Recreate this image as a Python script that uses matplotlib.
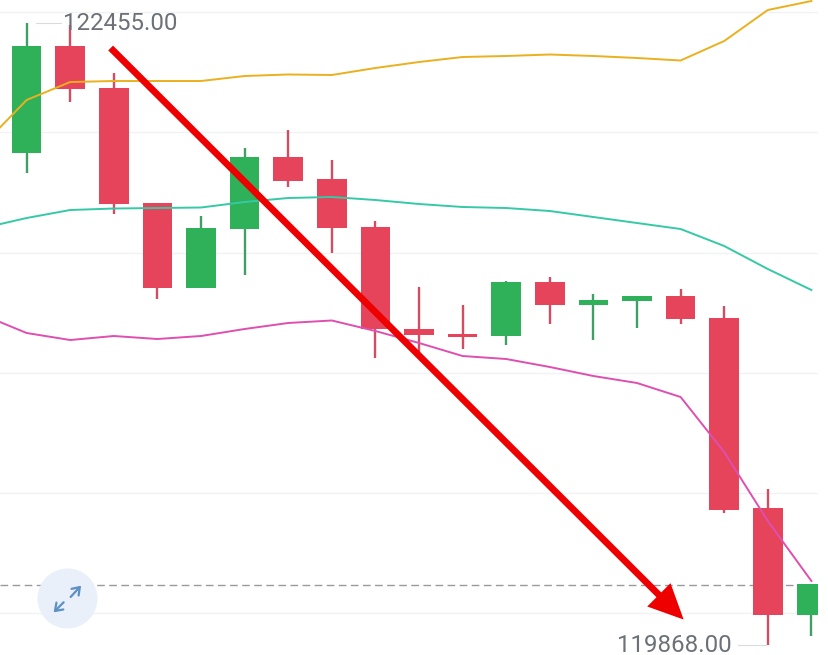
import matplotlib
matplotlib.use("Agg")
import matplotlib.pyplot as plt
import numpy as np

#candles, prices
opens = [121914.4, 122359.4, 122184.7, 121706.4, 121352.9, 121598.3, 121897.7, 121806.2, 121606.6, 121182.4,
	121161.6, 121153.3, 121377.9, 121282.2, 121298.8, 121319.6, 121228.1, 120437.9, 119992.9]
closes = [122359.4, 122180.5, 121702.3, 121352.9, 121602.4, 121897.7, 121797.9, 121602.4, 121182.4, 121157.4,
	121149.0, 121377.9, 121282.2, 121303.0, 121319.6, 121224.0, 120429.6, 119992.9, 120121.8]
highs = [122455.0, 122446.7, 122247.1, 121706.4, 121652.4, 121935.2, 122010.0, 121885.3, 121631.6, 121357.0,
	121282.2, 121382.0, 121398.7, 121328.0, 121319.6, 121348.8, 121278.0, 120517.0, 120121.8]
lows = [121831.2, 122126.5, 121660.7, 121307.2, 121352.9, 121407.0, 121773.0, 121498.5, 121061.8, 121086.7,
	121099.2, 121115.8, 121203.2, 121136.6, 121186.6, 121203.2, 120417.1, 119868.0, 119905.6]

#bands, first point sits just off the left edge
bandX = list(range(-1, 19))
upperBand = [121947.6, 122134.8, 122209.7, 122213.8, 122213.8, 122213.8, 122234.6, 122240.9, 122238.8, 122267.9,
	122292.8, 122313.6, 122317.8, 122324.0, 122317.8, 122309.5, 122299.1, 122380.2, 122509.1, 122546.5]
middleBand = [121602.4, 121644.0, 121677.3, 121683.5, 121685.6, 121687.7, 121710.6, 121727.2, 121731.4, 121718.9,
	121702.3, 121689.8, 121685.6, 121673.1, 121648.2, 121623.2, 121598.3, 121527.6, 121431.9, 121344.6]
lowerBand = [121240.6, 121165.8, 121136.6, 121153.3, 121140.8, 121153.3, 121182.4, 121207.4, 121217.8, 121174.1,
	121124.2, 121070.1, 121057.6, 121024.4, 120986.9, 120957.8, 120899.6, 120670.8, 120383.9, 120134.4]

gridPrices = [122500, 122000, 121500, 121000, 120500, 120000]
lastPrice = 120117.7
highLabel = "122455.00"
lowLabel = "119868.00"
highPrice = 122455.0
lowPrice = 119868.0

#hand drawn arrow, start and tip
arrowStart = (1.927, 122351.0)
arrowTip = (15.07, 119974.0)

#expand button
buttonCenter = (0.917, 120063.6)
iconUp = [(1.01, 120068.0), (1.25, 120115.0)]
iconDown = [(0.85, 120046.0), (0.62, 120004.0)]

green = "#2fb15a"
red = "#e5445a"
greenWick = "#3f9f65"
redWick = "#d44c62"
labelColor = "#6c7178"

fig = plt.figure(figsize=(8.29, 6.55), dpi=100)
#plot area stops a little before the right edge of the picture
ax = fig.add_axes([0, 0, 818 / 829, 1])
ax.set_xlim(-26.6 / 43.6, (818 - 26.6) / 43.6)
ax.set_ylim(119826.6, 122550.7)
ax.axis("off")

for p in gridPrices:
	ax.axhline(p, color="#f1f2f4", lw=1.0, zorder=1)
ax.axhline(lastPrice, color="#9a9a9a", lw=1.0, dashes=(5.5, 3.2), zorder=1.5)

#candles
for i in range(len(opens)):
	up = closes[i] >= opens[i]
	ax.vlines(i, lows[i], highs[i], color=greenWick if up else redWick, lw=1.7, zorder=2)
	bottom = min(opens[i], closes[i])
	height = abs(closes[i] - opens[i])
	ax.bar(i, height, bottom=bottom, width=0.68, color=green if up else red, zorder=3)

ax.plot(bandX, upperBand, color="#eab01e", lw=1.4, zorder=4)
ax.plot(bandX, middleBand, color="#35c9a6", lw=1.4, zorder=4)
ax.plot(bandX, lowerBand, color="#de4fb0", lw=1.4, zorder=4)

#high and low labels with their leader lines
ax.plot([0.206, 0.78], [highPrice, highPrice], color="#d9dbde", lw=0.8, zorder=2)
ax.text(0.83, highPrice, highLabel, family="Roboto", fontsize=17.3, color=labelColor, ha="left", va="center", zorder=6)
ax.plot([16.31, 16.95], [lowPrice, lowPrice], color="#d9dbde", lw=0.8, zorder=2)
ax.text(16.17, lowPrice, lowLabel, family="Roboto", fontsize=17.3, color=labelColor, ha="right", va="center", zorder=6)

#expand button
ax.scatter([buttonCenter[0]], [buttonCenter[1]], s=1870, color="#e9f0fa", linewidths=0, zorder=2)
for seg in (iconUp, iconDown):
	ax.annotate("", xy=seg[1], xytext=seg[0], zorder=3,
		arrowprops=dict(arrowstyle="->,head_length=5,head_width=3.5", mutation_scale=1, color="#5f90c4", lw=1.6,
			shrinkA=0, shrinkB=0))

#big red arrow over everything
ax.annotate("", xy=arrowTip, xytext=arrowStart, zorder=5,
	arrowprops=dict(arrowstyle="-|>,head_length=17,head_width=8", mutation_scale=1, color="#ee0000", lw=4.9,
		shrinkA=0, shrinkB=0, joinstyle="miter", capstyle="butt"))

fig.savefig("out.png", dpi=100, facecolor="white")
